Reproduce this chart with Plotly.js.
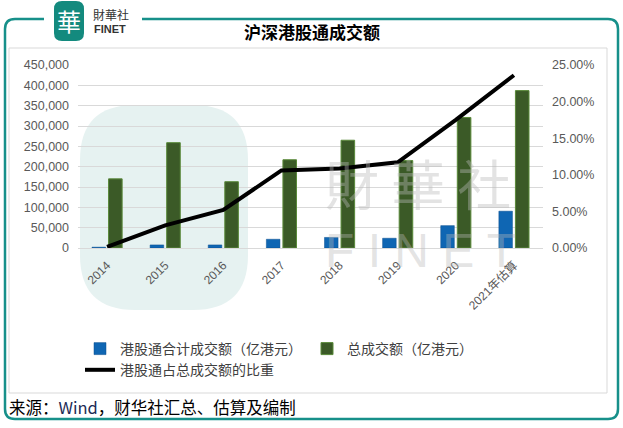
<!DOCTYPE html>
<html><head><meta charset="utf-8">
<script src="https://cdn.plot.ly/plotly-3.0.1.min.js"></script>
<style>html,body{margin:0;padding:0;background:#fff}#chart{width:623px;height:428px}</style>
</head><body><div id="chart"></div>
<script>
// ---- data ----
const categories = ['2014','2015','2016','2017','2018','2019','2020','2021年估算'];
const connectTurnover = [2000, 7500, 7500, 21500, 26000, 24000, 55000, 90500];   // 港股通合计成交额（亿港元）
const totalTurnover = [170000, 259000, 163000, 217000, 265000, 215000, 321000, 387000]; // 总成交额（亿港元）
const connectShare = [0.0015, 0.031, 0.052, 0.106, 0.1085, 0.117, 0.175, 0.236]; // 港股通占总成交额的比重
const seriesNames = ['港股通合计成交额（亿港元）', '总成交额（亿港元）', '港股通占总成交额的比重'];
const leftTicks = [0,50000,100000,150000,200000,250000,300000,350000,400000,450000];
const rightTicks = [0,0.05,0.10,0.15,0.20,0.25];

// ---- geometry helpers (pixel -> paper) ----
const W = 623, H = 428, PL = 78, PR = 543, PT = 65, PB = 248;
const X = px => (px - PL) / (PR - PL);
const Y = py => (PB - py) / (PB - PT);
function rr(x0, y0, x1, y1, r) {
  return `M${X(x0+r)},${Y(y0)} L${X(x1-r)},${Y(y0)} Q${X(x1)},${Y(y0)} ${X(x1)},${Y(y0+r)} ` +
         `L${X(x1)},${Y(y1-r)} Q${X(x1)},${Y(y1)} ${X(x1-r)},${Y(y1)} L${X(x0+r)},${Y(y1)} ` +
         `Q${X(x0)},${Y(y1)} ${X(x0)},${Y(y1-r)} L${X(x0)},${Y(y0+r)} Q${X(x0)},${Y(y0)} ${X(x0+r)},${Y(y0)} Z`;
}
const frame = `M${X(44)},${Y(19)} L${X(15)},${Y(19)} Q${X(5)},${Y(19)} ${X(5)},${Y(29)} L${X(5)},${Y(409)} ` +
  `Q${X(5)},${Y(419)} ${X(15)},${Y(419)} L${X(608)},${Y(419)} Q${X(618)},${Y(419)} ${X(618)},${Y(409)} ` +
  `L${X(618)},${Y(29)} Q${X(618)},${Y(19)} ${X(608)},${Y(19)} L${X(142)},${Y(19)}`;

const CJK = '"Noto Sans CJK SC", "Noto Sans", sans-serif';
const NUM = '"Liberation Sans", Arial, sans-serif';

const traces = [
  { type: 'bar', x: categories, y: connectTurnover, name: seriesNames[0],
    marker: { color: '#0f66b3', line: { color: '#0b4f8f', width: 0.5 } } },
  { type: 'bar', x: categories, y: totalTurnover, name: seriesNames[1],
    marker: { color: '#3b5a27', line: { color: '#5a8a3a', width: 1 } } },
  { type: 'scatter', mode: 'lines', x: categories, y: connectShare, name: seriesNames[2], yaxis: 'y2',
    line: { color: '#000000', width: 4 } }
];

const layout = {
  width: W, height: H,
  margin: { l: PL, r: W - PR, t: PT, b: H - PB, pad: 0 },
  paper_bgcolor: '#ffffff', plot_bgcolor: 'rgba(0,0,0,0)',
  barmode: 'group', bargap: 0.43, bargroupgap: 0.18,
  showlegend: true,
  title: { text: '<b>沪深港股通成交额</b>', x: 312 / W, xref: 'container', xanchor: 'center',
           y: 1 - 33 / H, yref: 'container', yanchor: 'middle',
           font: { family: CJK, size: 17, color: '#000000' } },
  xaxis: { type: 'category', tickangle: -45, showgrid: false, zeroline: false, showline: false,
           ticks: '', ticklabelstandoff: 7, tickfont: { family: NUM + ', ' + CJK, size: 12, color: '#595959' } },
  yaxis: { range: [0, 450000], tickvals: leftTicks, tickformat: ',', showgrid: true,
           gridcolor: '#d9d9d9', gridwidth: 1, zeroline: true, zerolinecolor: '#d9d9d9', zerolinewidth: 1,
           showline: false, ticks: '', ticklabelstandoff: 8,
           tickfont: { family: NUM, size: 12.5, color: '#595959' } },
  yaxis2: { range: [0, 0.25], tickvals: rightTicks, tickformat: '.2%', overlaying: 'y', side: 'right',
            showgrid: false, zeroline: false, showline: false, ticks: '', ticklabelstandoff: 8,
            tickfont: { family: NUM, size: 12.5, color: '#595959' } },
  legend: { orientation: 'h', x: X(80), xanchor: 'left', y: Y(333), yanchor: 'top',
            bgcolor: 'rgba(0,0,0,0)', font: { family: CJK, size: 14, color: '#404040' },
            traceorder: 'normal', itemclick: false },
  shapes: [
    // light teal watermark seal
    { type: 'path', xref: 'paper', yref: 'paper', layer: 'below', path: rr(80, 105, 248, 310, 55),
      fillcolor: '#e6f2f1', line: { width: 0 } },
    // inner light gray box
    { type: 'rect', xref: 'paper', yref: 'paper', x0: X(9), x1: X(607), y0: Y(48), y1: Y(393),
      line: { color: '#d9d9d9', width: 1 }, fillcolor: 'rgba(0,0,0,0)', layer: 'below' },
    // outer teal frame
    { type: 'path', xref: 'paper', yref: 'paper', path: frame,
      line: { color: '#17908a', width: 2.5 }, layer: 'above' },
    // logo seal
    { type: 'path', xref: 'paper', yref: 'paper', path: rr(54, 1, 84, 41, 8),
      fillcolor: '#138a7e', line: { width: 0 }, layer: 'above' }
  ],
  annotations: [
    { xref: 'paper', yref: 'paper', x: X(69), y: Y(21), text: '華', showarrow: false,
      font: { family: CJK, size: 24, color: '#ffffff' }, xanchor: 'center', yanchor: 'middle' },
    { xref: 'paper', yref: 'paper', x: X(91), y: Y(15), text: '財華社', showarrow: false,
      font: { family: CJK, size: 12, color: '#333333' }, xanchor: 'left', yanchor: 'middle' },
    { xref: 'paper', yref: 'paper', x: X(92), y: Y(29), text: '<b>FINET</b>', showarrow: false,
      font: { family: NUM, size: 11, color: '#333333' }, xanchor: 'left', yanchor: 'middle' },
    // watermark text
    { xref: 'paper', yref: 'paper', x: X(418), y: Y(182), text: '財 華 社', showarrow: false,
      font: { family: CJK, size: 54, color: 'rgba(185,185,185,0.4)' }, xanchor: 'center', yanchor: 'middle' },
    { xref: 'paper', yref: 'paper', x: X(420), y: Y(250), text: 'F I N E T', showarrow: false,
      font: { family: NUM, size: 48, color: 'rgba(185,185,185,0.4)' }, xanchor: 'center', yanchor: 'middle' },
    // source note
    { xref: 'paper', yref: 'paper', x: X(7), y: Y(407), text: '来源：<span style="color:#1c2b55">Wind</span>，财华社汇总、估算及编制',
      showarrow: false, font: { family: CJK, size: 16.5, color: '#000000' }, xanchor: 'left', yanchor: 'middle' }
  ]
};

Plotly.newPlot('chart', traces, layout, { staticPlot: true, displayModeBar: false });
</script>
</body></html>
